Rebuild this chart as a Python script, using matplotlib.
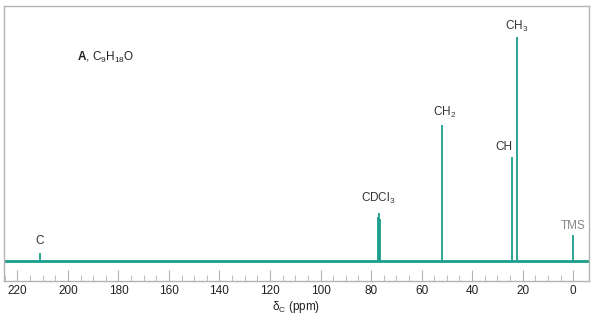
import matplotlib.pyplot as plt

plt.rcParams['font.family'] = ['Liberation Sans', 'DejaVu Sans']
plt.rcParams['mathtext.fontset'] = 'custom'
plt.rcParams['mathtext.rm'] = 'Liberation Sans'
plt.rcParams['mathtext.bf'] = 'Liberation Sans:bold'

# peak positions (ppm) and heights (arbitrary units, baseline = 0)
peak_ppm = [211.0, 77.4, 77.0, 76.6, 51.9, 24.3, 22.4, 0.0]
peak_height = [8, 44, 48, 42, 136, 104, 224, 26]

labels = ["C", "CDCl$_3$", "CH$_2$", "CH", "CH$_3$", "TMS"]
label_ppm = [211.0, 77.0, 50.8, 27.6, 22.4, 0.0]
label_height = [14, 55, 141, 108, 227, 29]
label_color = ["#333333", "#333333", "#333333", "#333333", "#333333", "#888888"]

xticks = list(range(0, 221, 20))
line_col = "#1b9e8a"
frame_col = "#b3b3b3"

fig = plt.figure(figsize=(5.97, 3.18), dpi=100)
ax = fig.add_axes([0.0067, 0.1164, 0.98, 0.8647])

ax.axhline(0, color=line_col, lw=2.0)
ax.vlines(peak_ppm, 0, peak_height, color=line_col, lw=1.3)

for txt, x, y, c in zip(labels, label_ppm, label_height, label_color):
    ax.text(x, y, txt, ha="center", va="bottom", fontsize=8.5, color=c)

ax.text(0.125, 0.80, r"$\mathbf{A}$, C$_9$H$_{18}$O", transform=ax.transAxes,
        fontsize=8.5, color="#222222")

ax.set_xlim(225.3, -6.3)
ax.set_ylim(-20, 255)
ax.set_xticks(xticks)
ax.set_xticks(range(0, 226, 5), minor=True)
ax.set_yticks([])
ax.tick_params(axis="x", which="major", direction="in", length=8, width=0.8,
               color=frame_col, labelsize=8.5, labelcolor="#222222", pad=3)
ax.tick_params(axis="x", which="minor", direction="in", length=4.3, width=0.6,
               color=frame_col)
for s in ax.spines.values():
    s.set_color(frame_col)
    s.set_linewidth(1.0)

ax.set_xlabel("δ$_\\mathregular{C}$ (ppm)", fontsize=8.5, color="#222222", labelpad=1)

fig.savefig("out.png", dpi=100)
